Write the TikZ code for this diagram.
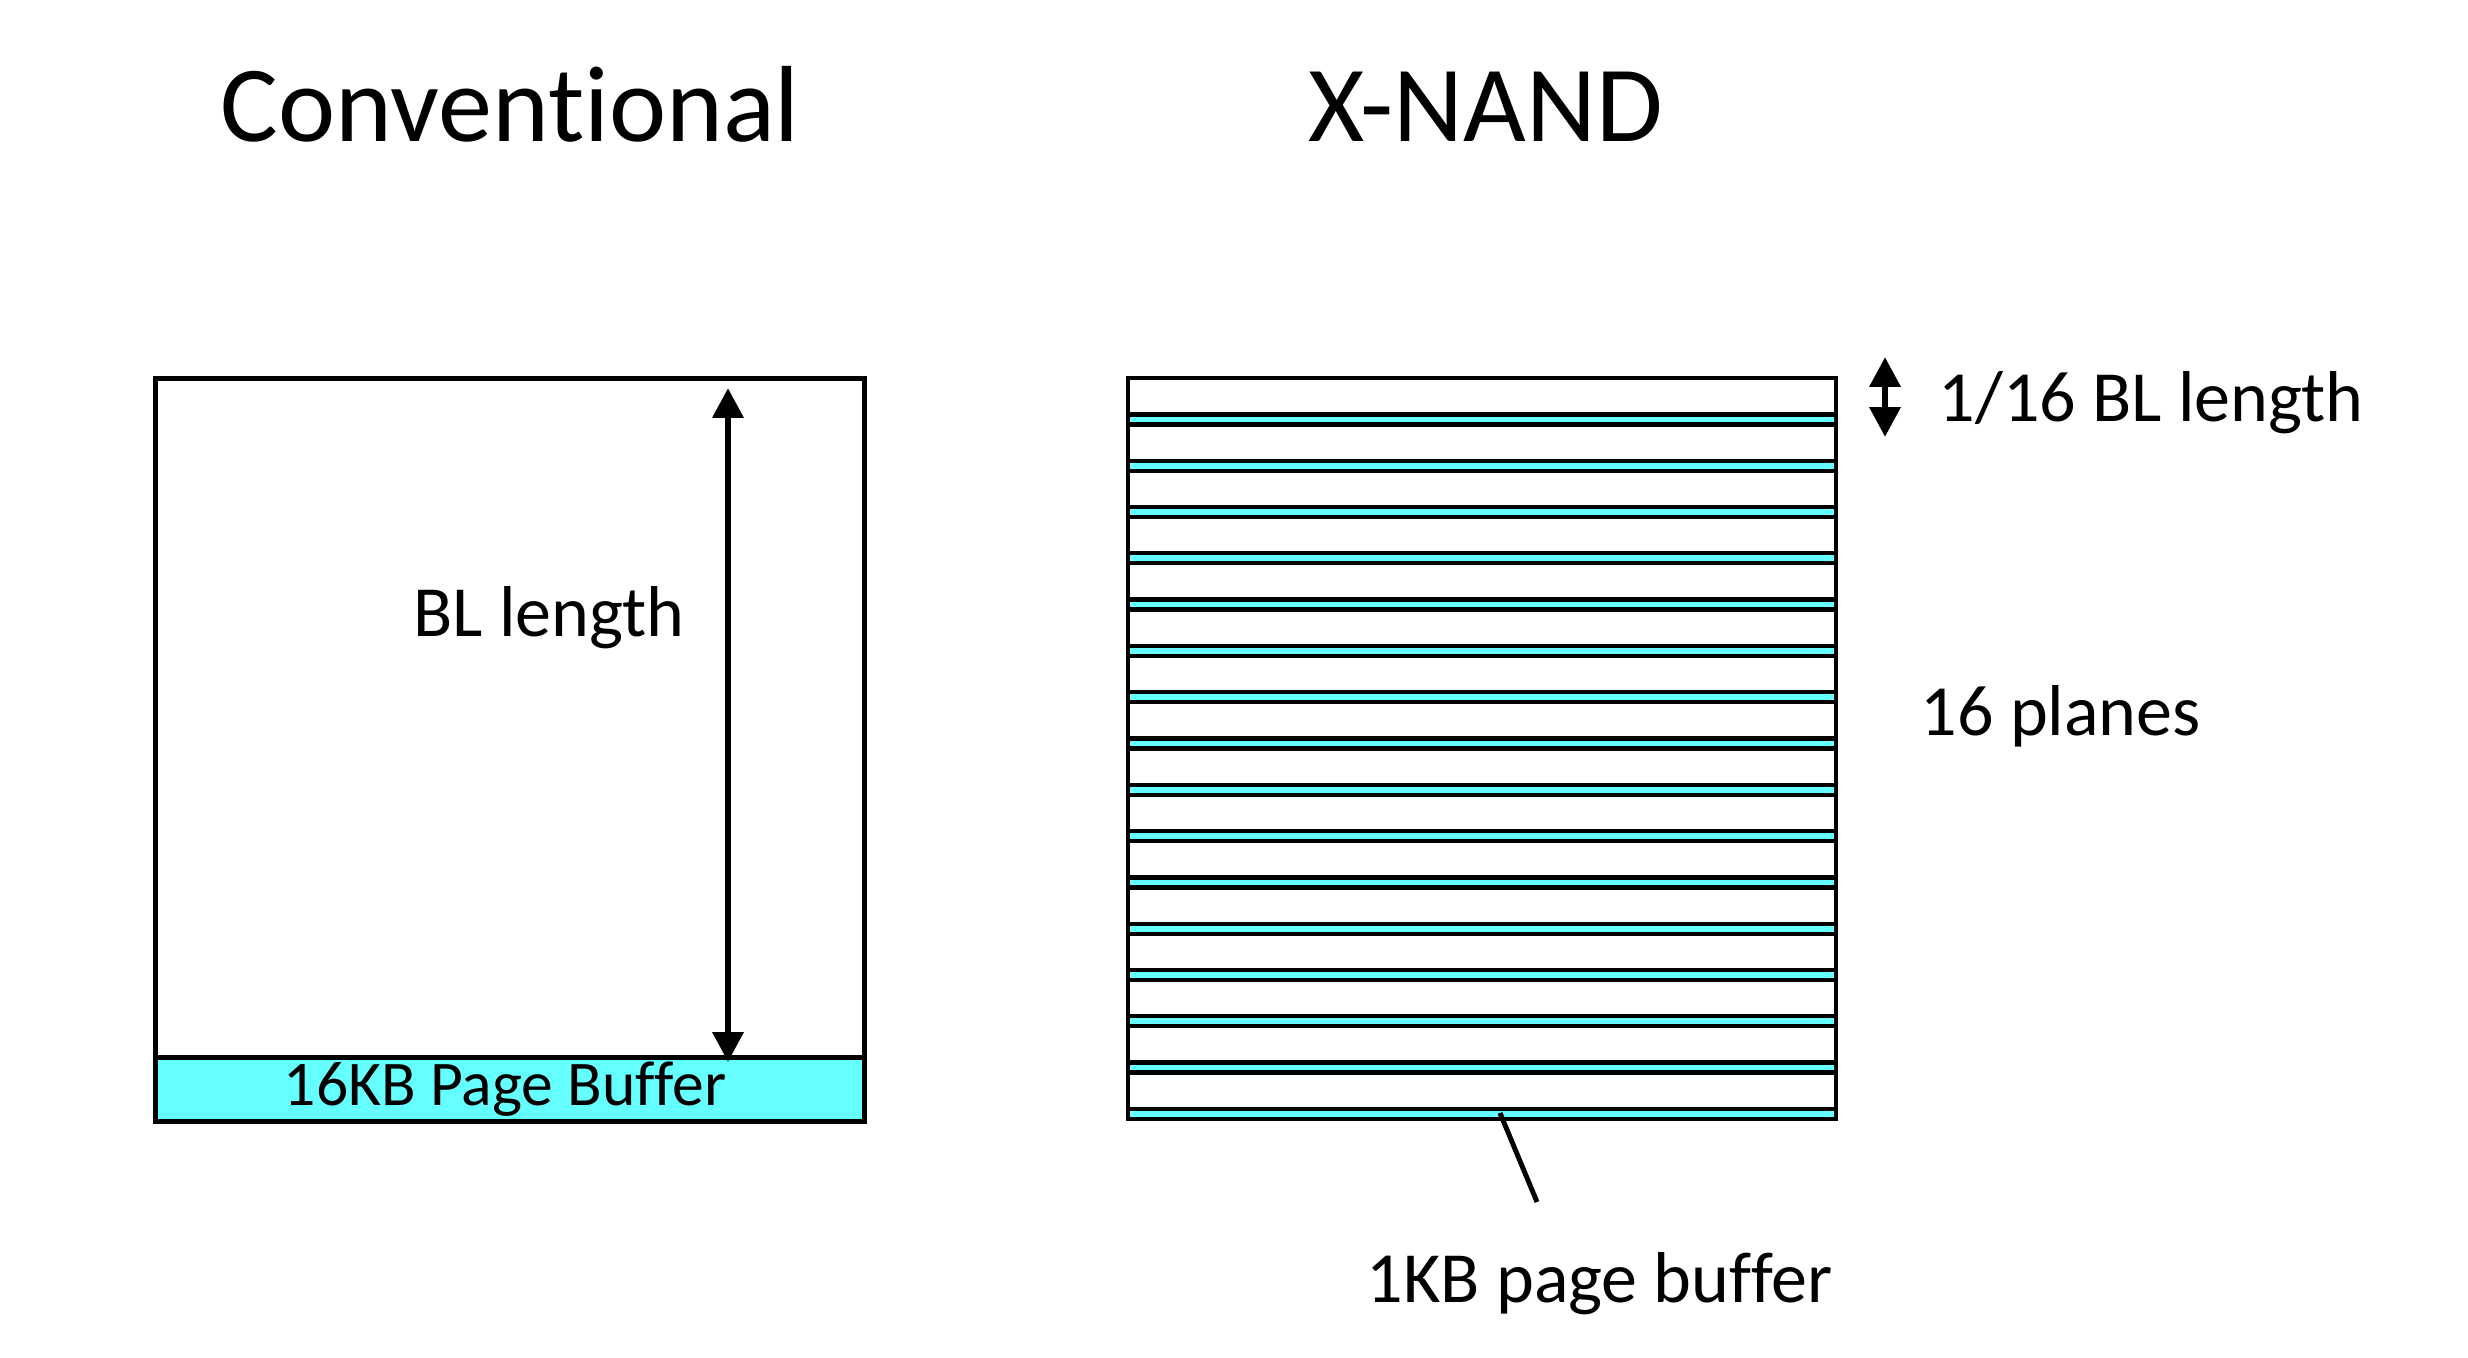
\documentclass[tikz,border=0pt]{standalone}
\usepackage{fontspec}
\setmainfont{Carlito}[Ligatures=NoCommon]
\usepackage{xcolor}
\usepackage{tikz}
\usetikzlibrary{arrows.meta}

\definecolor{bufcyan}{RGB}{102,255,255}

\tikzset{
    title/.style={anchor=base west, inner sep=0pt, font=\fontsize{30.8}{36}\selectfont},
    lbl/.style={anchor=base west, inner sep=0pt, font=\fontsize{20.5}{24}\selectfont},
    plane/.style={draw, line width=1.2pt, fill=white, minimum width=7.08cm, minimum height=0.463cm, inner sep=0pt, anchor=north},
    pbuf/.style={draw, line width=1.2pt, fill=bufcyan, minimum width=7.08cm, minimum height=0.10cm, inner sep=0pt, anchor=south},
    dimarrow/.style={line width=1.9pt, {Triangle[length=8.5pt,width=8.5pt]}-{Triangle[length=8.5pt,width=8.5pt]}}
}

\begin{document}
\begin{tikzpicture}
    \useasboundingbox (0,0) rectangle (24.68,-13.58);

    % titles
    \node[title] (tconv) at (2.20,-1.42) {Conventional};
    \node[title] (txnand) at (13.08,-1.42) {X-NAND};

    % conventional array
    \node[draw, line width=1.4pt, minimum width=7.09cm, minimum height=7.43cm, inner sep=0pt, anchor=north west] (conv) at (1.53,-3.76) {};
    \node[draw, line width=1.4pt, fill=bufcyan, minimum width=7.09cm, minimum height=0.64cm, inner sep=0pt, anchor=south] (convbuf) at (conv.south) {};
    \node[anchor=base, inner sep=0pt, font=\fontsize{18.1}{21}\selectfont] (tbuf) at (5.05,-11.06) {16KB Page Buffer};
    \coordinate (bltop) at (7.28,-3.88);
    \coordinate (blbot) at (7.28,-10.62);
    \draw[dimarrow] (bltop) -- (blbot);
    \node[lbl] (tbl) at (4.13,-6.37) {BL length};

    % x-nand planes
    \foreach \i in {1,...,16} {
        \node[plane] (pl\i) at (14.82,{-3.76-(\i-1)*0.463}) {};
        \node[pbuf] (pb\i) at (pl\i.south) {};
    }
    \coordinate (sttop) at (18.85,-3.57);
    \coordinate (stbot) at (18.85,-4.37);
    \draw[dimarrow] (sttop) -- (stbot);
    \node[lbl] (tshort) at (19.38,-4.22) {1/16 BL length};
    \node[lbl] (tplanes) at (19.20,-7.36) {16 planes};

    \coordinate (leadtop) at (15.00,-11.13);
    \node[lbl] (tpb) at (13.66,-13.03) {1KB page buffer};
    \draw[line width=1.4pt] (leadtop) -- (15.37,-12.02);
\end{tikzpicture}
\end{document}
